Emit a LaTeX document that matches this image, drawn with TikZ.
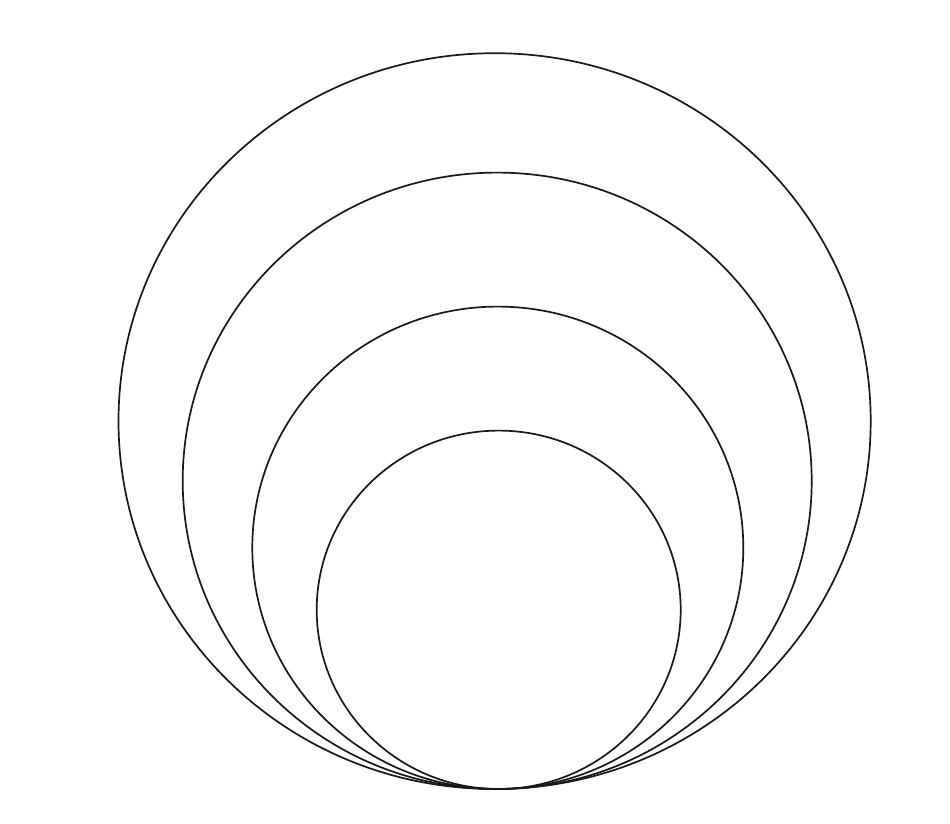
\documentclass[tikz,border=0pt]{standalone}
\begin{document}
\begin{tikzpicture}[x=1pt,y=-1pt,ring/.style={draw=black!90,line width=1.7pt}]
\useasboundingbox[fill=white] (0,0) rectangle (950,824);
\draw[ring] (494.6,421.1) ellipse [x radius=376.1, y radius=367.9];
\draw[ring] (497.2,480.8) ellipse [x radius=314.5, y radius=308.2];
\draw[ring] (497.8,547.8) ellipse [x radius=245.5, y radius=241.2];
\draw[ring] (498.7,609.8) ellipse [x radius=182, y radius=179.2];
\end{tikzpicture}
\end{document}
